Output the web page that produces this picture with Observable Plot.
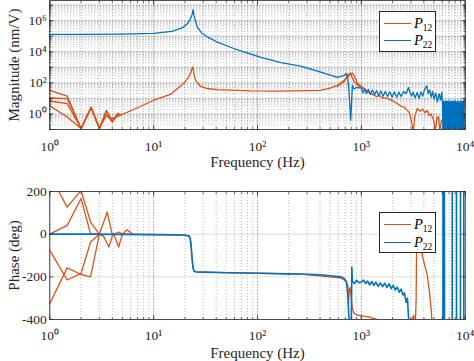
<!DOCTYPE html>
<html><head><meta charset="utf-8">
<script src="https://cdn.jsdelivr.net/npm/d3@7"></script>
<script src="https://cdn.jsdelivr.net/npm/@observablehq/plot@0.6"></script>
<style>
body{margin:0;background:#fff;}
#wrap{position:relative;width:474px;height:361px;overflow:hidden;font-family:"Liberation Serif",serif;background:#fff;}
#top{position:absolute;left:0;top:0;}
#bot{position:absolute;left:0;top:172px;}
.leg{position:absolute;left:379px;width:57px;height:41px;background:#fff;border:0.8px solid #262626;box-sizing:border-box;z-index:5;}
.ln{position:absolute;left:4px;width:27px;height:1.4px;}
.lab{position:absolute;left:34px;font-size:14.5px;line-height:14px;color:#000;white-space:nowrap;}
.lab sub{font-size:9.5px;font-style:normal;vertical-align:-3px;}
</style>
</head><body>
<div id="wrap"><div id="top"></div><div id="bot"></div>
<div class="leg" style="top:11px">
 <div class="ln" style="top:11px;background:#D95319"></div><div class="lab" style="top:4px"><i>P</i><sub>12</sub></div>
 <div class="ln" style="top:28px;background:#0072BD"></div><div class="lab" style="top:21px"><i>P</i><sub>22</sub></div>
</div>
<div class="leg" style="top:212px">
 <div class="ln" style="top:10.5px;background:#D95319"></div><div class="lab" style="top:3.5px"><i>P</i><sub>12</sub></div>
 <div class="ln" style="top:28.5px;background:#0072BD"></div><div class="lab" style="top:21.5px"><i>P</i><sub>22</sub></div>
</div>
</div>
<script>
// ---------- data ----------
const freqTicks = [1, 10, 100, 1000, 10000];
const magTicks = [1, 100, 1e4, 1e6];
const magDecades = [0.1, 1, 10, 100, 1e3, 1e4, 1e5, 1e6, 1e7];
const phaseTicks = [200, 0, -200, -400];

// Magnitude P22 (blue)
const p22MagF = [1, 2, 5, 10, 15, 19, 21, 22.5, 23.5, 24, 24.5, 25.5, 26.3, 29, 33, 40, 59, 108, 168, 261, 400, 589, 684, 719, 740, 760, 790, 805, 820, 850, 900, 1000,
 1040, 1080, 1120, 1170, 1220, 1280, 1340, 1400, 1470, 1540, 1620, 1700, 1790, 1880, 1980, 2080, 2190, 2300, 2420, 2550, 2700, 2840, 2950, 3050, 3150, 3300, 3450, 3600, 3750, 3900, 4050, 4270, 4400, 4550, 4700, 4850, 5000, 5200, 5400, 5600, 5800, 5950, 6040,
 6100, 6180, 6260, 6340, 6420, 6500, 6590, 6680, 6770, 6860, 6950, 7050, 7150, 7250, 7350, 7450, 7550, 7650, 7760, 7870, 7980, 8090, 8200, 8320, 8440, 8560, 8680, 8800, 8930, 9060, 9190, 9320, 9450, 9590, 9730, 9860, 10000];
const p22Mag = [1.3e5, 1.3e5, 1.35e5, 1.5e5, 2.0e5, 3.5e5, 6e5, 1.2e6, 2.5e6, 5e6, 2e6, 8e5, 3.8e5, 1.6e5, 8.7e4, 4.5e4, 1.6e4, 4.3e3, 2.0e3, 1.2e3, 500, 224, 300, 400, 200, 30, 0.4, 5, 69, 40, 50, 45,
 22, 40, 20, 38, 18, 35, 17, 32, 15, 30, 14, 28, 13, 27, 12, 26, 12, 25, 13, 28, 20, 50, 22, 14, 25, 11, 24, 10, 26, 14, 35, 65, 20, 35, 12, 28, 9, 22, 6, 20, 8, 25, 5,
 0.08, 7, 0.08, 6, 0.08, 7, 0.08, 6.5, 0.08, 7, 0.08, 6, 0.08, 7, 0.08, 6, 0.08, 7, 0.08, 6.5, 0.08, 7, 0.08, 6, 0.08, 7, 0.08, 6, 0.08, 7, 0.08, 6.5, 0.08, 7, 0.08, 6, 0.08];

// Magnitude P12 (orange) main curve
const p12MagF = [4.8, 7, 10, 14.5, 19.5, 21.7, 22.8, 23.8, 24.5, 25.3, 28.2, 32.9, 41, 85, 165, 402, 500, 589, 684, 752, 822, 860, 918, 1065, 1224, 1300, 1400, 1500, 1600, 1785, 2000, 2230, 2440, 2586, 2763, 2900, 3000, 3100, 3178, 3250, 3450, 3700, 3900, 4100, 4306, 4500, 4700, 4955, 5176, 5350, 5533, 5700, 5912];
const p12Mag = [0.83, 2.5, 7.6, 18, 93, 225, 470, 1030, 350, 145, 60, 43, 36.6, 30, 29, 33, 45, 69, 145, 260, 425, 260, 89, 43, 20, 17, 13, 15, 11, 10, 7, 4.5, 3.0, 2.8, 1.7, 1.2, 0.5, 0.15, 0.08, 0.6, 2.2, 1.5, 2.0, 1.2, 1.7, 0.8, 1.0, 0.4, 0.09, 0.6, 0.65, 0.09, 0.4];
// second P12 measurement near 800 Hz
const p12bMagF = [589, 684, 740, 780, 800, 850, 918, 1065];
const p12bMag = [60, 120, 330, 420, 300, 120, 70, 40];
// P12 low-frequency measurements
const p12LowF = [1, 1.47, 2.0, 2.5, 3.0, 3.5, 4.0, 4.5, 4.8];
const p12LowA = [33, 14, 0.115, 2.8, 0.115, 1.7, 0.31, 1.06, 0.83];
const p12LowB = [10.6, 9.7, 0.115, 2.6, 0.115, 0.83, 0.5, 0.7, 0.83];
const p12LowC = [6.8, 4.6, 0.115, 2.4, 0.115, 1.5, 0.35, 0.9, 0.83];
const p12LowD = [3.3, 0.64, 0.115, 2.7, 0.12, 0.9, 0.3, 1.0, 0.83];

// Phase P22 (blue)
const p22PhF = [1, 2, 5, 10, 15, 20, 21.8, 22.5, 23, 23.5, 24, 24.5, 25.5, 30, 50, 100, 200, 259, 400, 630, 684, 720, 740, 760, 770, 800, 810, 820, 860, 900, 950, 1000,
 1050, 1100, 1150, 1200, 1260, 1320, 1380, 1450, 1520, 1600, 1680, 1760, 1850, 1940, 2030, 2120, 2220, 2320, 2420, 2520, 2600, 2700, 2780, 2850, 2900,
 6100, 6115, 6300, 6320, 7490, 7505, 8240, 8255, 9000, 9015, 9690, 9705, 10000];
const p22Ph = [0, 0, -1, -2, -3, -5, -8, -20, -60, -120, -160, -172, -177, -178, -181, -183, -186, -187, -190, -200, -208, -224, -286, -395, -450, -450, -154, -224, -231, -216, -228, -224,
 -215, -232, -220, -238, -222, -240, -225, -245, -228, -246, -230, -250, -233, -255, -240, -262, -248, -272, -258, -285, -275, -320, -300, -395, -460,
 -500, 300, 300, -500, -500, 300, 300, -500, -500, 300, 300, -500, -500];

// Phase P12 (orange)
const p12PhF = [5, 10, 20, 21.8, 22.5, 23, 23.5, 24, 24.5, 25.5, 30, 100, 259, 630, 684, 720, 740, 752, 765, 780, 800, 820, 850, 918, 1000, 1140, 1420, 1600, 2000, 3000, 3200, 3250, 3300, 3370, 3400, 3600, 3800, 3900, 4100, 4300, 4500, 4700, 4850, 5000];
const p12Ph = [0, -2, -5, -8, -20, -60, -120, -160, -172, -177, -178, -183, -187, -205, -215, -226, -240, -330, -262, -250, -300, -350, -370, -380, -383, -387, -400, -410, -420, -410, -380, -420, -450, -300, -60, -40, -70, -110, -150, -190, -260, -350, -450, -480];
const p12PhL1F = [1, 1.47, 2.0, 2.47, 3.0, 3.57, 4.0, 4.6, 5.0];
const p12PhL1 = [0, 41, 167, 0, 0, 103, -5, 10, 0];
const p12PhL2F = [1, 1.22, 1.47, 2.0, 2.47, 3.0];
const p12PhL2 = [280, 200, 127, 205, 57, 0];
const p12PhL3F = [1, 1.47, 2.0, 2.47, 3.0, 3.3, 3.7, 4.1, 4.6, 5.0, 5.55, 6.3];
const p12PhL3 = [-76, -215, -184, -37, 0, -10, -60, 5, -60, 0, 21, 0];
const p12PhL4F = [1, 1.47, 2.0, 2.47, 3.0];
const p12PhL4 = [-325, -158, -189, -200, 0];

// ---------- drawing ----------
const blue = "#0072BD", orange = "#D95319", ink = "#262626";
const supMap = {"-":"⁻","0":"⁰","1":"¹","2":"²","3":"³","4":"⁴","5":"⁵","6":"⁶","7":"⁷","8":"⁸","9":"⁹"};
const pow10 = v => "10" + String(Math.round(Math.log10(v))).split("").map(c => supMap[c]).join("");
const rows = (fs, vs, s) => fs.map((f, i) => ({f, v: vs[i], s}));
const font = "'Liberation Serif', serif";

const orangeMag = [
  ...rows(p12LowF, p12LowA, "a"), ...rows(p12LowF, p12LowB, "b"),
  ...rows(p12LowF, p12LowC, "c"), ...rows(p12LowF, p12LowD, "d"),
  ...rows(p12MagF, p12Mag, "m"), ...rows(p12bMagF, p12bMag, "n")
];
const blueMag = rows(p22MagF, p22Mag, "p22");
const orangePh = [
  ...rows(p12PhL1F, p12PhL1, "a"), ...rows(p12PhL2F, p12PhL2, "b"),
  ...rows(p12PhL3F, p12PhL3, "c"), ...rows(p12PhL4F, p12PhL4, "d"),
  ...rows(p12PhF, p12Ph, "m")
];
const bluePh = rows(p22PhF, p22Ph, "p22");

function inwardTicks(ticks, size, axisY) {
  const ax = axisY ? Plot.axisY : Plot.axisX;
  const anchors = axisY ? ["left", "right"] : ["bottom", "top"];
  const opts = a => ({anchor: a, label: null, tickSize: -size, tickFormat: () => "", stroke: ink, strokeWidth: 0.7, strokeOpacity: 1});
  return anchors.map(a => (Array.isArray(ticks) ? ax(ticks, opts(a)) : ax({...opts(a), ticks})));
}

const common = {
  width: 474, marginLeft: 49.3, marginRight: 9.3,
  style: {fontFamily: font, background: "white", overflow: "visible"}
};

const magPlot = Plot.plot({
  ...common, height: 172, marginTop: 0, marginBottom: 43,
  x: {type: "log", domain: [1, 1e4], axis: null},
  y: {type: "log", domain: [0.1, Math.pow(10, 7.29)], axis: null},
  marks: [
    Plot.gridX({ticks: 10, stroke: ink, strokeOpacity: 0.3, strokeDasharray: "1,2"}),
    Plot.gridY({ticks: 20, stroke: ink, strokeOpacity: 0.3, strokeDasharray: "1,2"}),
    Plot.gridX(freqTicks, {stroke: ink, strokeOpacity: 0.15}),
    Plot.gridY(magDecades, {stroke: ink, strokeOpacity: 0.15}),
    Plot.line(orangeMag, {x: "f", y: "v", z: "s", stroke: orange, strokeWidth: 1.3, clip: true}),
    Plot.line(blueMag, {x: "f", y: "v", z: "s", stroke: blue, strokeWidth: 1.3, clip: true}),
    ...inwardTicks(10, 2, false),
    ...inwardTicks(freqTicks, 4, false),
    ...inwardTicks(20, 2, true),
    ...inwardTicks(magDecades, 4, true),
    Plot.frame({stroke: ink, strokeWidth: 0.8}),
    Plot.text(freqTicks, {x: d => d, text: pow10, frameAnchor: "bottom", dy: 17.5, lineAnchor: "middle", fontSize: 13.5, fill: ink}),
    Plot.text(magTicks, {y: d => d, text: pow10, frameAnchor: "left", dx: -3, textAnchor: "end", lineAnchor: "middle", fontSize: 13.5, fill: ink}),
    Plot.text(["Frequency (Hz)"], {frameAnchor: "bottom", dy: 33, textAnchor: "middle", lineAnchor: "middle", fontSize: 15, fill: ink}),
    Plot.text(["Magnitude (nm/V)"], {frameAnchor: "left", dx: -36, rotate: -90, textAnchor: "middle", lineAnchor: "middle", fontSize: 15, fill: ink})
  ]
});
document.getElementById("top").appendChild(magPlot);

const phPlot = Plot.plot({
  ...common, height: 189, marginTop: 19, marginBottom: 42,
  x: {type: "log", domain: [1, 1e4], axis: null},
  y: {domain: [-400, 200], axis: null},
  marks: [
    Plot.gridX({ticks: 10, stroke: ink, strokeOpacity: 0.3, strokeDasharray: "1,2"}),
    Plot.gridX(freqTicks, {stroke: ink, strokeOpacity: 0.15}),
    Plot.gridY(phaseTicks, {stroke: ink, strokeOpacity: 0.15}),
    Plot.line(orangePh, {x: "f", y: "v", z: "s", stroke: orange, strokeWidth: 1.3, clip: true}),
    Plot.line(bluePh, {x: "f", y: "v", z: "s", stroke: blue, strokeWidth: 1.6, clip: true}),
    ...inwardTicks(10, 2, false),
    ...inwardTicks(freqTicks, 4, false),
    ...inwardTicks(phaseTicks, 4, true),
    Plot.frame({stroke: ink, strokeWidth: 0.8}),
    Plot.text(freqTicks, {x: d => d, text: pow10, frameAnchor: "bottom", dy: 16.5, lineAnchor: "middle", fontSize: 13.5, fill: ink}),
    Plot.text(phaseTicks, {y: d => d, text: d => String(d), frameAnchor: "left", dx: -3, textAnchor: "end", lineAnchor: "middle", fontSize: 13.5, fill: ink}),
    Plot.text(["Frequency (Hz)"], {frameAnchor: "bottom", dy: 34, textAnchor: "middle", lineAnchor: "middle", fontSize: 15, fill: ink}),
    Plot.text(["Phase (deg)"], {frameAnchor: "left", dx: -36, rotate: -90, textAnchor: "middle", lineAnchor: "middle", fontSize: 15, fill: ink})
  ]
});
document.getElementById("bot").appendChild(phPlot);
</script>
</body></html>
